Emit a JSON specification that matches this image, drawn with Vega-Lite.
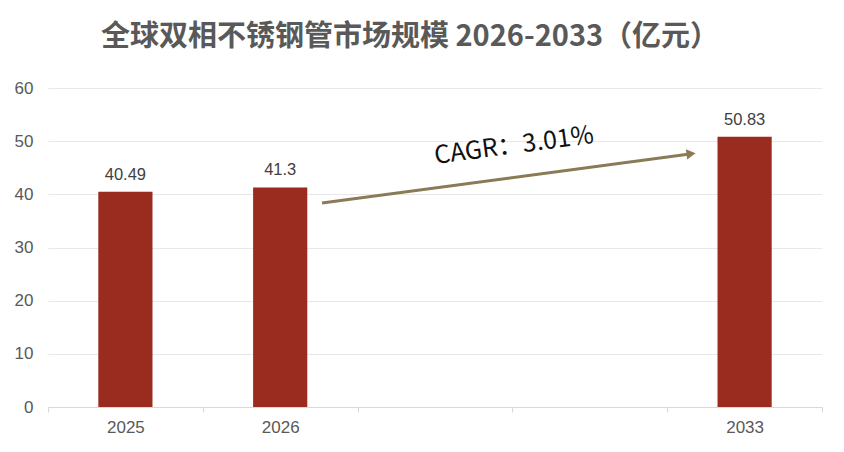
{
  "$schema": "https://vega.github.io/schema/vega-lite/v6.json",
  "width": 774,
  "height": 319,
  "autosize": {"type": "none"},
  "padding": {"left": 48, "top": 88, "right": 22, "bottom": 45},
  "background": "white",
  "config": {
    "view": {"stroke": null},
    "font": "Liberation Sans"
  },
  "title": {
    "text": "全球双相不锈钢管市场规模 2026-2033（亿元）",
    "font": "Noto Sans CJK SC",
    "fontWeight": "bold",
    "fontSize": 29,
    "color": "#595959",
    "anchor": "middle",
    "dx": -25,
    "offset": 27
  },
  "datasets": {
    "bars": [
      {"year": "2025", "value": 40.49},
      {"year": "2026", "value": 41.3},
      {"year": "2033", "value": 50.83}
    ],
    "arrow": [
      {"px": 1.770, "py": 38.37},
      {"px": 4.134, "py": 47.55}
    ],
    "head": [
      {"px": 4.154, "py": 47.62}
    ],
    "note": [
      {"px": 3.01, "py": 49.2, "label": "CAGR：3.01%"}
    ]
  },
  "resolve": {"scale": {"x": "independent"}, "axis": {"x": "independent"}},
  "layer": [
    {
      "data": {"name": "bars"},
      "encoding": {
        "x": {
          "field": "year",
          "type": "nominal",
          "sort": null,
          "scale": {"domain": ["2025", "2026", " ", "  ", "2033"], "paddingInner": 0, "paddingOuter": 0},
          "axis": {
            "title": null,
            "labelAngle": 0,
            "labelFontSize": 17,
            "labelColor": "#595959",
            "labelPadding": 7,
            "domainColor": "#d9d9d9",
            "domainWidth": 1,
            "tickColor": "#d9d9d9",
            "tickSize": 5,
            "tickBand": "extent",
            "grid": false
          }
        },
        "y": {
          "field": "value",
          "type": "quantitative",
          "scale": {"domain": [0, 60], "nice": false},
          "axis": {
            "title": null,
            "values": [0, 10, 20, 30, 40, 50, 60],
            "labelFontSize": 17,
            "labelColor": "#595959",
            "labelPadding": 15,
            "domain": false,
            "ticks": false,
            "grid": true,
            "gridColor": "#e8e8e8",
            "gridWidth": 1
          }
        }
      },
      "layer": [
        {"mark": {"type": "bar", "color": "#9a2b1f", "width": {"band": 0.35}}},
        {
          "mark": {"type": "text", "baseline": "bottom", "dy": -9, "fontSize": 16.5, "color": "#404040", "font": "Liberation Sans"},
          "encoding": {"text": {"field": "value", "type": "quantitative"}}
        }
      ]
    },
    {
      "layer": [
        {
          "data": {"name": "arrow"},
          "mark": {"type": "line", "color": "#8a7b56", "strokeWidth": 3},
          "encoding": {
            "x": {"field": "px", "type": "quantitative", "scale": {"domain": [0, 5], "nice": false, "zero": false}, "axis": null},
            "y": {"field": "py", "type": "quantitative"}
          }
        },
        {
          "data": {"name": "head"},
          "mark": {"type": "point", "shape": "triangle-right", "filled": true, "color": "#8a7b56", "opacity": 1, "size": 110, "angle": 352.4},
          "encoding": {
            "x": {"field": "px", "type": "quantitative", "scale": {"domain": [0, 5], "nice": false, "zero": false}, "axis": null},
            "y": {"field": "py", "type": "quantitative"}
          }
        },
        {
          "data": {"name": "note"},
          "mark": {"type": "text", "font": "Noto Sans CJK SC", "fontSize": 25, "color": "#111111", "angle": 352.4, "align": "center", "baseline": "middle"},
          "encoding": {
            "x": {"field": "px", "type": "quantitative", "scale": {"domain": [0, 5], "nice": false, "zero": false}, "axis": null},
            "y": {"field": "py", "type": "quantitative"},
            "text": {"field": "label"}
          }
        }
      ]
    }
  ]
}
